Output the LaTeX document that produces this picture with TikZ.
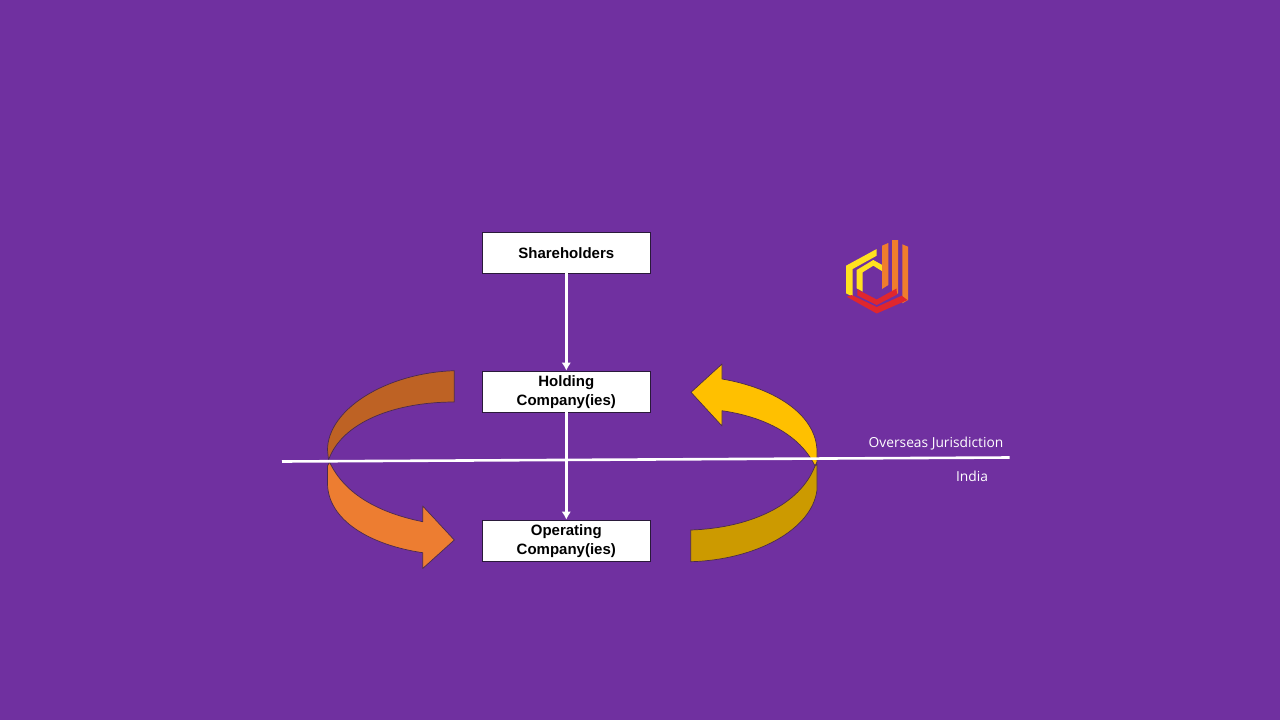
\documentclass[tikz,border=0pt]{standalone}
\usepackage{fontspec}
\setmainfont{Liberation Sans}
\newfontfamily\labelfont{Open Sans}
\definecolor{bgpurple}{HTML}{7030A0}
\definecolor{arrowbrown}{HTML}{BE6224}
\definecolor{arroworange}{HTML}{ED7D31}
\definecolor{arrowyellow}{HTML}{FFC000}
\definecolor{arrowgold}{HTML}{CC9A00}
\definecolor{outlinedark}{HTML}{4A2A50}
\definecolor{boxedge}{HTML}{2A1A3A}
\definecolor{logoyellow}{HTML}{FFE11F}
\definecolor{logoorange}{HTML}{F07D2D}
\definecolor{logored}{HTML}{E0262E}
\usetikzlibrary{arrows.meta}
\tikzset{
  x=1pt,y=-1pt,
  entity/.style={draw=boxedge,line width=0.5pt,fill=white,minimum width=168pt,inner sep=0pt,align=center,font=\fontsize{15}{19}\selectfont\bfseries,text=black},
  flow/.style={draw=white,line width=3pt,-{Latex[length=8pt,width=9.5pt]}},
  bigarrow/.style={draw=outlinedark,line width=0.7pt,line join=round},
  place/.style={text=white,font=\fontsize{13.8}{16}\selectfont\labelfont,inner sep=0pt},
}
\begin{document}
\begin{tikzpicture}
\fill[bgpurple] (0,0) rectangle (1280,720);
\useasboundingbox (0,0) rectangle (1280,720);

% curved arrows
\draw[bigarrow,fill=arrowbrown] (454.3,370.7) .. controls (385,373) and (327.5,410) .. (327.5,450) -- (328.5,460)
  .. controls (342,422) and (395,402) .. (454.3,402) -- cycle;
\draw[bigarrow,fill=arroworange] (329.5,462) .. controls (345,495) and (380,513) .. (422.7,521.7)
  -- (422.7,506) -- (454.3,540) -- (422.7,568.5) -- (422.7,552.7)
  .. controls (370,545) and (327.5,520) .. (327.5,483) -- (327.5,466) -- cycle;
\draw[bigarrow,fill=arrowgold] (690.7,530) .. controls (750,528) and (800,505) .. (815,466)
  -- (817,464) -- (817,490) .. controls (812,530) and (755,560) .. (690.7,561.7) -- cycle;
\draw[bigarrow,fill=arrowyellow] (691,392.3) -- (722,364) -- (722,379)
  .. controls (775,388) and (817,415) .. (817,452) -- (817,462) -- (815,466)
  .. controls (800,435) and (765,417) .. (722,410.7) -- (722,426) -- cycle;

% logo
\fill[logoyellow] (846,265.7) -- (876.7,249) -- (876.7,255.7) -- (852.7,269) -- (852.7,296.7) -- (846,293.3) -- cycle;
\fill[logoyellow] (856.7,270) -- (873.3,260) -- (883.5,265.7) -- (883.5,272) -- (873.3,265.7) -- (862.7,272.3) -- (862.7,291.7) -- (856.7,288.3) -- cycle;
\fill[logoorange] (882,245.7) -- (888.3,243) -- (888.3,285) -- (882,289) -- cycle;
\fill[logoorange] (892,240) -- (898,240) -- (898,293.3) -- (892,296.7) -- cycle;
\fill[logoorange] (902.3,244.3) -- (908,246.7) -- (908,300) -- (902.3,303.3) -- cycle;
\fill[logored] (857.3,289.5) -- (876.7,299.5) -- (896.5,288.5) -- (897,294.5) -- (876.7,305) -- (857.3,295.5) -- cycle;
\fill[logored] (846.7,296.7) -- (851.7,295) -- (876.7,307) -- (901.7,295.7) -- (907.5,300) -- (876.7,313.5) -- cycle;

% boxes
\node[entity,minimum height=40.5pt] (share) at (566.3,252.8) {Shareholders};
\node[entity,minimum height=41pt] (hold) at (566.3,391.4) {\rule{0pt}{12.5pt}Holding\\Company(ies)};
\node[entity,minimum height=41pt] (oper) at (566.3,540.4) {\rule{0pt}{12.5pt}Operating\\Company(ies)};

% connectors
\draw[flow] (share) -- (hold);
\draw[flow] (hold) -- (oper);

% border line
\coordinate (lineW) at (282,461.5);
\coordinate (lineE) at (1009.5,457.5);
\draw[white,line width=2.6pt] (lineW) -- (lineE);

% labels
\node[place] (over) at (936,443.8) {Overseas Jurisdiction};
\node[place] (india) at (972,476.5) {India};
\end{tikzpicture}
\end{document}
